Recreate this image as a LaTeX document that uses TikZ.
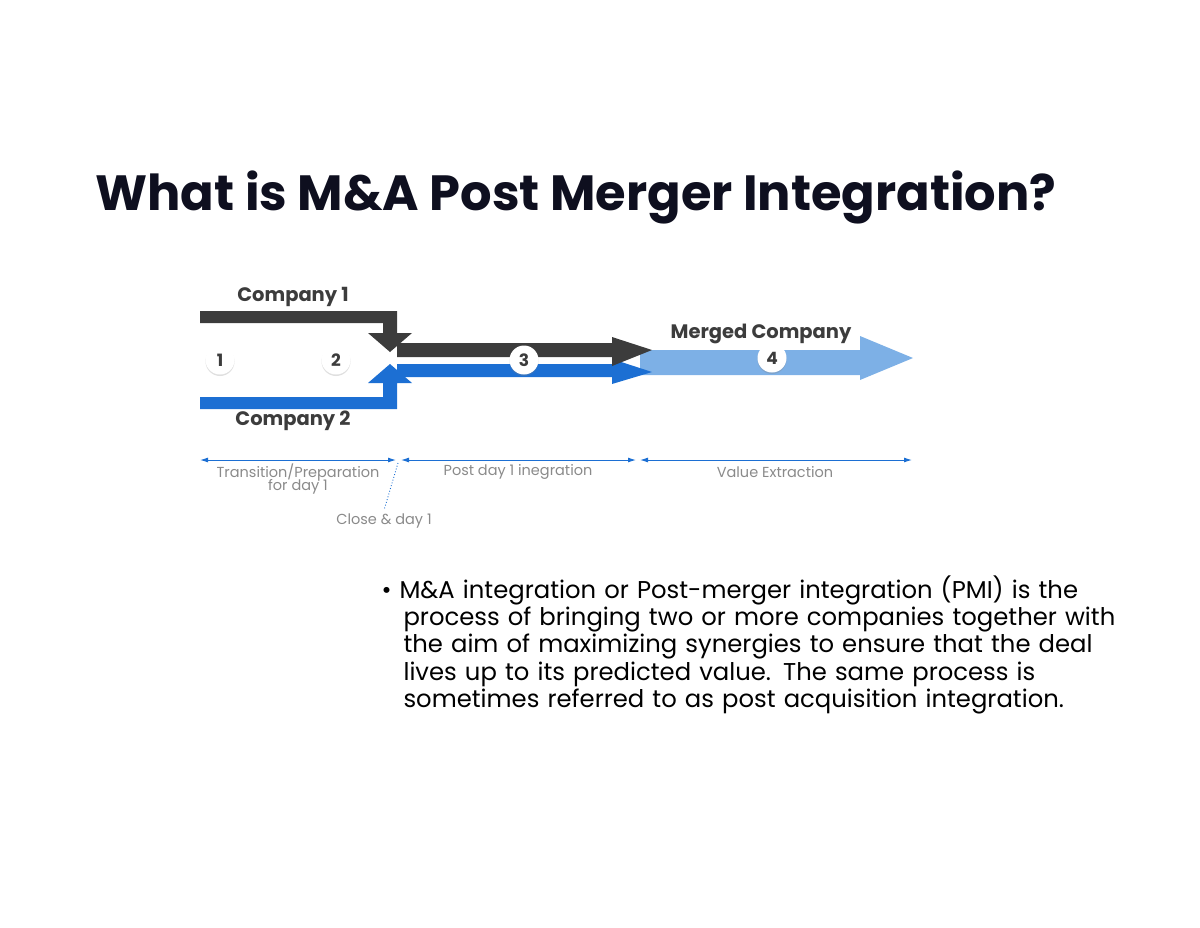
\documentclass[tikz,border=0pt]{standalone}
\usepackage{fontspec}
\setmainfont{Poppins}
\usetikzlibrary{arrows.meta,shadows}
\definecolor{dark}{HTML}{3C3C3C}
\definecolor{blu}{HTML}{1C6FD3}
\definecolor{lblu}{HTML}{7DB0E6}
\definecolor{ttl}{HTML}{0E0F1F}
\definecolor{lab}{HTML}{8A8A8A}
\tikzset{
 num/.style={circle,fill=white,minimum size=29pt,inner sep=0pt,font=\bfseries\fontsize{17}{17}\selectfont,text=dark,drop shadow={opacity=0.25,shadow xshift=0pt,shadow yshift=-1.5pt}},
 cname/.style={font=\bfseries\fontsize{19.5}{20}\selectfont,text=dark},
 dim/.style={blu,line width=1pt,{Latex[length=8pt,width=5pt]}-{Latex[length=8pt,width=5pt]}},
 dlab/.style={font=\fontsize{14.5}{13}\selectfont,text=lab,align=center}
}
\begin{document}
\begin{tikzpicture}[x=1pt,y=-1pt]
\useasboundingbox (0,0) rectangle (1200,927);
\node[font=\bfseries\fontsize{49.5}{50}\selectfont,text=ttl] (title) at (576,197) {What is M\&A Post Merger Integration?};
% light blue merged arrow
\fill[lblu] (640,350) -- (860,350) -- (860,336) -- (913,358) -- (860,380) -- (860,375) -- (640,375) -- cycle;
% blue company 2
\fill[blu] (200,397) -- (383,397) -- (383,383) -- (368,383) -- (390,364) -- (412,383) -- (397,383) -- (397,409) -- (200,409) -- cycle;
\fill[blu] (397,364) -- (612,364) -- (612,359) -- (652,372) -- (612,384) -- (612,377) -- (397,377) -- cycle;
% dark company 1
\fill[dark] (200,311) -- (397,311) -- (397,333) -- (412,333) -- (390,352) -- (368,333) -- (383,333) -- (383,323) -- (200,323) -- cycle;
\fill[dark] (397,343) -- (612,343) -- (612,337) -- (652,350) -- (612,366) -- (612,357) -- (397,357) -- cycle;
\node[cname] (c1) at (293,297) {Company 1};
\node[cname] (c2) at (293,421) {Company 2};
\node[cname] (mc) at (761,334) {Merged Company};
\node[num] (n1) at (220,360) {1};
\node[num] (n2) at (336,360) {2};
\node[num] (n3) at (524,360) {3};
\node[num] (n4) at (772,358) {4};
% dimension lines
\coordinate (a0) at (200,460); \coordinate (a1) at (396,460);
\coordinate (b0) at (401,460); \coordinate (b1) at (636,460);
\coordinate (d0) at (640,460); \coordinate (d1) at (912,460);
\draw[dim] (a0) -- (a1);
\draw[dim] (b0) -- (b1);
\draw[dim] (d0) -- (d1);
\node[dlab] (l1) at (298,479) {Transition/Preparation\\[-2pt]for day 1};
\node[dlab] (l2) at (518,472) {Post day 1 inegration};
\node[dlab] (l3) at (775,472) {Value Extraction};
\node[dlab] (l4) at (384,521) {Close \& day 1};
\coordinate (dt) at (398,463);
\draw[blu,dotted,line width=0.9pt] (dt) -- (l4.north);
% bullet text
\node[anchor=north west,align=left,text width=800pt,font=\fontsize{24.3}{27.3}\selectfont,text=black] (body) at (378,572)
{\textbullet\hspace{8pt}M\&A integration or Post-merger integration (PMI) is the\\
\hspace{22pt}process of bringing two or more companies together with\\
\hspace{22pt}the aim of maximizing synergies to ensure that the deal\\
\hspace{22pt}lives up to its predicted value. The same process is\\
\hspace{22pt}sometimes referred to as post acquisition integration.};
\end{tikzpicture}
\end{document}
